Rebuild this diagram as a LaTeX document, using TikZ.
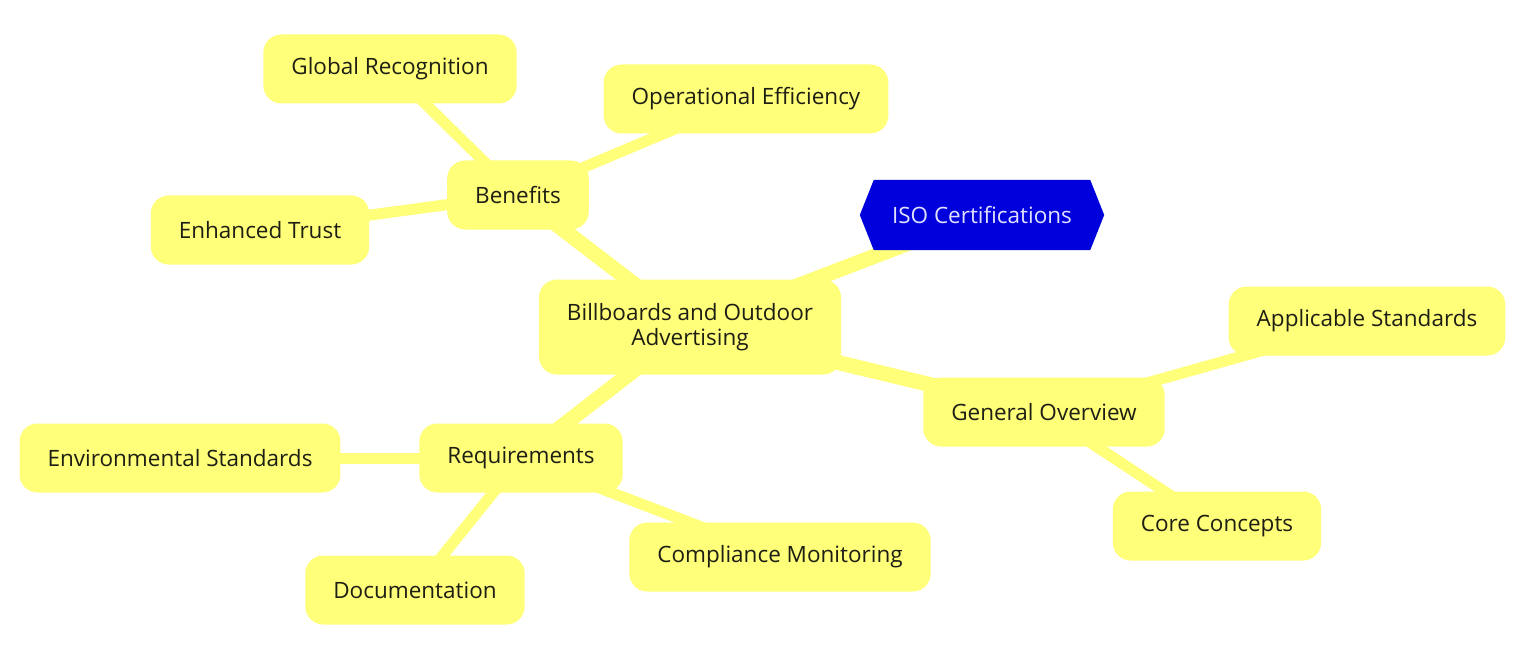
\documentclass[tikz,border=0pt]{standalone}
\usepackage{fontspec}
\setmainfont{Open Sans}
\usetikzlibrary{backgrounds}
\definecolor{nodeyellow}{RGB}{255,255,122}
\definecolor{isoblue}{RGB}{0,0,220}
\definecolor{isotext}{RGB}{225,225,255}
\definecolor{txt}{RGB}{30,30,20}
\tikzset{
  leaf/.style={fill=nodeyellow, rounded corners=18pt, minimum height=69pt, inner xsep=28pt, text=txt, font=\fontsize{22.5}{25}\selectfont},
  edge1/.style={draw=nodeyellow, line width=15pt},
  edge2/.style={draw=nodeyellow, line width=11pt},
}
\begin{document}
\begin{tikzpicture}[x=1pt,y=-1pt]
\useasboundingbox (0,0) rectangle (1536,647);
\node[leaf, minimum width=300pt, minimum height=95pt, align=center] (root) at (690,327) {Billboards and Outdoor\\Advertising};
\node[minimum width=216pt, minimum height=70pt, inner sep=0pt] (iso) at (982,215) {};
\node[leaf] (ben) at (518,195) {Benefits};
\node[leaf] (glob) at (390,69) {Global Recognition};
\node[leaf] (oper) at (746,99) {Operational Efficiency};
\node[leaf] (trust) at (260,230) {Enhanced Trust};
\node[leaf] (gen) at (1044,412) {General Overview};
\node[leaf] (appl) at (1367,321) {Applicable Standards};
\node[leaf] (core) at (1217,526) {Core Concepts};
\node[leaf] (req) at (521,458) {Requirements};
\node[leaf] (env) at (180,458) {Environmental Standards};
\node[leaf] (doc) at (415,590) {Documentation};
\node[leaf] (comp) at (780,557) {Compliance Monitoring};
\begin{scope}[on background layer]
\fill[white] (0,0) rectangle (1536,647);
\draw[edge1] (root.center) -- (iso.center);
\draw[edge1] (root.center) -- (ben.center);
\draw[edge1] (root.center) -- (gen.center);
\draw[edge1] (root.center) -- (req.center);
\draw[edge2] (ben.center) -- (glob.center);
\draw[edge2] (ben.center) -- (oper.center);
\draw[edge2] (ben.center) -- (trust.center);
\draw[edge2] (gen.center) -- (appl.center);
\draw[edge2] (gen.center) -- (core.center);
\draw[edge2] (req.center) -- (env.center);
\draw[edge2] (req.center) -- (doc.center);
\draw[edge2] (req.center) -- (comp.center);
\end{scope}
\fill[isoblue] ([xshift=-14pt]iso.west) -- (iso.north west) -- (iso.north east) -- ([xshift=14pt]iso.east) -- (iso.south east) -- (iso.south west) -- cycle;
\node[text=isotext, font=\fontsize{22.5}{25}\selectfont] (isolabel) at (iso.center) {ISO Certifications};
\end{tikzpicture}
\end{document}
